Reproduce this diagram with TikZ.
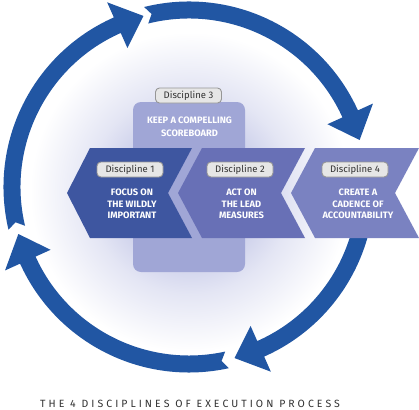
\documentclass[tikz,border=0pt]{standalone}
\usepackage{fontspec}
\setmainfont{Fira Sans}
\definecolor{ringblue}{RGB}{33,86,163}
\definecolor{glowc}{RGB}{178,183,224}
\definecolor{boxthree}{RGB}{160,166,214}
\definecolor{discone}{RGB}{62,86,160}
\definecolor{disctwo}{RGB}{104,112,182}
\definecolor{discfour}{RGB}{122,130,193}
\definecolor{labfill}{RGB}{230,230,230}
\definecolor{labdraw}{RGB}{150,150,150}
\definecolor{titlegray}{RGB}{50,50,50}
\pgfdeclareradialshading{glowshade}{\pgfpoint{0bp}{0bp}}{color(0bp)=(glowc); color(8bp)=(glowc!80!white); color(16bp)=(glowc!35!white); color(25bp)=(white); color(50bp)=(white)}
\newcommand\RingArrow[2]{%
  \fill[ringblue] (#1:185.5) arc[start angle=#1, end angle=#2+9, radius=185.5]
    -- ({#2+9}:202) -- (#2:177) -- ({#2+9}:152) -- ({#2+9}:168.5)
    arc[start angle=#2+9, end angle=#1, radius=168.5] -- ({#1-1.8}:177) -- cycle;}
\tikzset{
  lab/.style={draw=labdraw, fill=labfill, line width=0.9pt, rounded corners=4pt,
    minimum width=66pt, minimum height=15pt, inner sep=0pt, text=titlegray,
    font=\fontsize{9.5}{11}\selectfont},
  dtext/.style={align=center, text=white, inner sep=0pt,
    font=\fontsize{9.3}{11.6}\selectfont\bfseries},
}
\begin{document}
\begin{tikzpicture}[x=1pt, y=-1pt]
\useasboundingbox (0,0) rectangle (419,409);
\fill[white] (0,0) rectangle (419,409);
% glow
\shade[shading=glowshade] (190,192) circle (160);
% ring
\begin{scope}[shift={(189,187)}, yscale=-1]
  \RingArrow{193.3}{104.9}
  \RingArrow{104.0}{15.4}
  \RingArrow{10}{-75.1}
  \RingArrow{-77.6}{-164.6}
\end{scope}
% discipline 3 box
\node[fill=boxthree, rounded corners=8pt, minimum width=112pt, minimum height=170pt, inner sep=0pt] (box3) at (189,187) {};
\node[lab] (lab3) at (188.5,95.5) {Discipline 3};
\node[dtext, font=\fontsize{9.3}{12.5}\selectfont\bfseries] (txt3) at (189.5,127) {KEEP A COMPELLING\\SCOREBOARD};
% chevrons
\fill[discone] (90,148) -- (192,148) -- (168,193) -- (192,238) -- (90,238) -- (67,193) -- cycle;
\fill[disctwo] (202,148) -- (305,148) -- (281,193) -- (305,238) -- (202,238) -- (178,193) -- cycle;
\fill[discfour] (315,148) -- (419,148) -- (395,193) -- (419,238) -- (315,238) -- (291,193) -- cycle;
% labels
\node[lab] (lab1) at (130,169.5) {Discipline 1};
\node[lab] (lab2) at (240,169.5) {Discipline 2};
\node[lab] (lab4) at (355,169.5) {Discipline 4};
% texts
\node[dtext] (txt1) at (132,203.8) {FOCUS ON\\THE WILDLY\\IMPORTANT};
\node[dtext] (txt2) at (241.5,203.8) {ACT ON\\THE LEAD\\MEASURES};
\node[dtext] (txt4) at (358,203.8) {CREATE A\\CADENCE OF\\ACCOUNTABILITY};
% title
\node[anchor=base, inner sep=0pt, text=titlegray, font=\fontsize{10.5}{12}\selectfont\addfontfeatures{LetterSpace=29}] (title) at (190,407.5) {THE 4 DISCIPLINES OF EXECUTION PROCESS};
\end{tikzpicture}
\end{document}
